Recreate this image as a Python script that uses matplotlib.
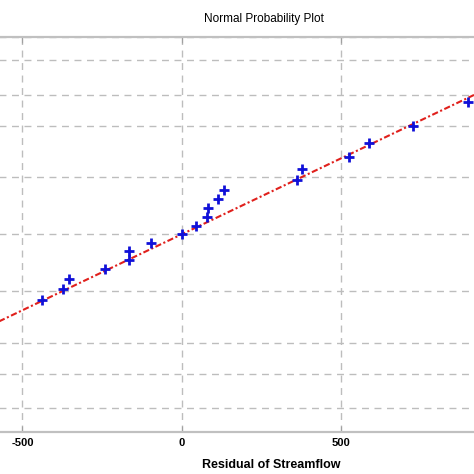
import matplotlib
matplotlib.use("Agg")
import matplotlib.pyplot as plt
from statistics import NormalDist

# ---- data ----
residuals = [-440, -372, -355, -241, -167, -167, -97, 0, 45, 80, 83, 115,
             133, 362, 376, 526, 586, 726, 899]
probabilities = [0.22, 0.26, 0.30, 0.34, 0.38, 0.42, 0.46, 0.50, 0.54, 0.58,
                 0.62, 0.66, 0.70, 0.74, 0.78, 0.82, 0.86, 0.90, 0.94]
fit_mu = 0.0
fit_sigma = 558.0
y_tick_probs = [0.01, 0.02, 0.05, 0.10, 0.25, 0.50, 0.75, 0.90, 0.95, 0.98, 0.99]
x_ticks = [-500, 0, 500]
x_limits = [-1000, 1500]
title = "Normal Probability Plot"
xlabel = "Residual of Streamflow"

nd = NormalDist()
z = [nd.inv_cdf(p) for p in probabilities]
z_ticks = [nd.inv_cdf(p) for p in y_tick_probs]

plt.rcParams['font.family'] = ['Liberation Sans', 'DejaVu Sans']
plt.rcParams['axes.unicode_minus'] = False
W = 474
fig = plt.figure(figsize=(4.74, 4.74), dpi=100)
ax = fig.add_axes([-136.9 / W, 1 - 431.5 / W, 796.8 / W, (431.5 - 37) / W])

ax.set_xlim(*x_limits)
ax.set_ylim(z_ticks[0], z_ticks[-1])
ax.set_xticks(x_ticks)
ax.set_yticks(z_ticks)
ax.set_yticklabels([])

grid_kw = dict(color='#bdbdbd', linewidth=1.0, dashes=(5, 4))
ax.grid(True, **grid_kw)
ax.set_axisbelow(True)

for s in ax.spines.values():
    s.set_color('#c0c0c0')
    s.set_linewidth(1.6)

ax.tick_params(direction='in', length=4, color='#a0a0a0', top=True, right=True,
               labelsize=8, pad=5)
for lab in ax.get_xticklabels():
    lab.set_fontweight('bold')

# fitted line
xs = list(x_limits)
ys = [(x - fit_mu) / fit_sigma for x in xs]
ax.plot(xs, ys, color='#e0201c', linewidth=1.5, zorder=3,
        dashes=(3, 1.2, 1, 1.2))

# data
ax.plot(residuals, z, linestyle='none', marker='+', color='#1010d8',
        markersize=7, markeredgewidth=2.0, zorder=4)

fig.text(264 / W, 1 - 19 / W, title, ha='center', va='center', fontsize=8.5)
fig.text(271 / W, 1 - 465 / W, xlabel, ha='center', va='center', fontsize=9,
         fontweight='bold')

fig.savefig("out.png", dpi=100)
